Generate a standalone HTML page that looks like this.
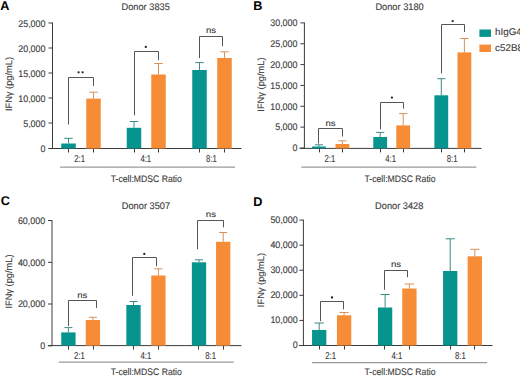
<!DOCTYPE html>
<html><head><meta charset="utf-8"><style>
html,body{margin:0;padding:0;background:#fff;width:520px;height:377px;overflow:hidden}
svg{display:block}
text{font-family:"Liberation Sans", sans-serif;text-rendering:geometricPrecision;stroke:#3a3a3a;stroke-width:0.12px}
</style></head><body>
<svg width="520" height="377" viewBox="0 0 520 377">
<rect width="520" height="377" fill="#fff"/>
<text x="0.3" y="9.6" font-size="12.7" text-anchor="start" font-weight="700" fill="#000" style="stroke:none">A</text>
<text x="121.5" y="9.799999999999999" font-size="9.6" text-anchor="start" font-weight="400" fill="#3a3a3a" textLength="48.3" lengthAdjust="spacingAndGlyphs" >Donor 3835</text>
<line x1="52.5" y1="22.5" x2="52.5" y2="149.0" stroke="#3c3c3c" stroke-width="1"/>
<line x1="48.5" y1="23" x2="52.5" y2="23" stroke="#3c3c3c" stroke-width="1"/>
<text transform="translate(45.5 26.8) scale(0.93 1)" font-size="9.6" text-anchor="end" font-weight="400" fill="#3a3a3a" >25,000</text>
<line x1="48.5" y1="48" x2="52.5" y2="48" stroke="#3c3c3c" stroke-width="1"/>
<text transform="translate(45.5 51.800000000000004) scale(0.93 1)" font-size="9.6" text-anchor="end" font-weight="400" fill="#3a3a3a" >20,000</text>
<line x1="48.5" y1="73" x2="52.5" y2="73" stroke="#3c3c3c" stroke-width="1"/>
<text transform="translate(45.5 76.8) scale(0.93 1)" font-size="9.6" text-anchor="end" font-weight="400" fill="#3a3a3a" >15,000</text>
<line x1="48.5" y1="98" x2="52.5" y2="98" stroke="#3c3c3c" stroke-width="1"/>
<text transform="translate(45.5 101.8) scale(0.93 1)" font-size="9.6" text-anchor="end" font-weight="400" fill="#3a3a3a" >10,000</text>
<line x1="48.5" y1="123" x2="52.5" y2="123" stroke="#3c3c3c" stroke-width="1"/>
<text transform="translate(45.5 126.8) scale(0.93 1)" font-size="9.6" text-anchor="end" font-weight="400" fill="#3a3a3a" >5,000</text>
<line x1="48.5" y1="148.5" x2="52.5" y2="148.5" stroke="#3c3c3c" stroke-width="1"/>
<text transform="translate(45.5 152.29999999999998) scale(0.93 1)" font-size="9.6" text-anchor="end" font-weight="400" fill="#3a3a3a" >0</text>
<line x1="48.5" y1="148.5" x2="241.5" y2="148.5" stroke="#3c3c3c" stroke-width="1"/>
<line x1="68.5" y1="148.5" x2="68.5" y2="152.5" stroke="#3c3c3c" stroke-width="1"/>
<line x1="93.5" y1="148.5" x2="93.5" y2="152.5" stroke="#3c3c3c" stroke-width="1"/>
<line x1="134.5" y1="148.5" x2="134.5" y2="152.5" stroke="#3c3c3c" stroke-width="1"/>
<line x1="158.5" y1="148.5" x2="158.5" y2="152.5" stroke="#3c3c3c" stroke-width="1"/>
<line x1="199.5" y1="148.5" x2="199.5" y2="152.5" stroke="#3c3c3c" stroke-width="1"/>
<line x1="224.5" y1="148.5" x2="224.5" y2="152.5" stroke="#3c3c3c" stroke-width="1"/>
<rect x="61.25" y="143.5" width="14.5" height="5.0" fill="#07938e"/>
<line x1="68.5" y1="138.3" x2="68.5" y2="143.5" stroke="#3c8a86" stroke-width="1"/>
<line x1="64.3" y1="138.3" x2="72.7" y2="138.3" stroke="#3c8a86" stroke-width="1.0"/>
<rect x="86.25" y="98.6" width="14.5" height="49.900000000000006" fill="#f68c35"/>
<line x1="93.5" y1="92.2" x2="93.5" y2="98.6" stroke="#d6925a" stroke-width="1"/>
<line x1="89.3" y1="92.2" x2="97.7" y2="92.2" stroke="#d6925a" stroke-width="1.0"/>
<rect x="126.75" y="127.8" width="14.5" height="20.700000000000003" fill="#07938e"/>
<line x1="134" y1="121.5" x2="134" y2="127.8" stroke="#3c8a86" stroke-width="1"/>
<line x1="129.8" y1="121.5" x2="138.2" y2="121.5" stroke="#3c8a86" stroke-width="1.0"/>
<rect x="151.25" y="74.5" width="14.5" height="74.0" fill="#f68c35"/>
<line x1="158.5" y1="63.5" x2="158.5" y2="74.5" stroke="#d6925a" stroke-width="1"/>
<line x1="154.3" y1="63.5" x2="162.7" y2="63.5" stroke="#d6925a" stroke-width="1.0"/>
<rect x="192.25" y="70.0" width="14.5" height="78.5" fill="#07938e"/>
<line x1="199.5" y1="62.6" x2="199.5" y2="70.0" stroke="#3c8a86" stroke-width="1"/>
<line x1="195.3" y1="62.6" x2="203.7" y2="62.6" stroke="#3c8a86" stroke-width="1.0"/>
<rect x="217.25" y="58.0" width="14.5" height="90.5" fill="#f68c35"/>
<line x1="224.5" y1="51.8" x2="224.5" y2="58.0" stroke="#d6925a" stroke-width="1"/>
<line x1="220.3" y1="51.8" x2="228.7" y2="51.8" stroke="#d6925a" stroke-width="1.0"/>
<polyline points="68.5,124.5 68.5,77.5 93.5,77.5 93.5,86" fill="none" stroke="#555555" stroke-width="1"/>
<circle cx="78.6" cy="72.3" r="1.15" fill="#222"/>
<circle cx="82.6" cy="72.3" r="1.15" fill="#222"/>
<polyline points="134.5,115.3 134.5,51.5 158.5,51.5 158.5,60.3" fill="none" stroke="#555555" stroke-width="1"/>
<circle cx="145.8" cy="46.9" r="1.15" fill="#222"/>
<polyline points="199.5,58.1 199.5,36.5 222.5,36.5 222.5,46.3" fill="none" stroke="#555555" stroke-width="1"/>
<text transform="translate(211 33.2) scale(1.13 1)" font-size="8.5" text-anchor="middle" font-weight="400" fill="#3a3a3a" >ns</text>
<text x="79.6" y="161.9" font-size="10.0" text-anchor="middle" font-weight="400" fill="#3a3a3a" textLength="10.8" lengthAdjust="spacingAndGlyphs" >2:1</text>
<text x="145.8" y="161.9" font-size="10.0" text-anchor="middle" font-weight="400" fill="#3a3a3a" textLength="10.8" lengthAdjust="spacingAndGlyphs" >4:1</text>
<text x="211.5" y="161.9" font-size="10.0" text-anchor="middle" font-weight="400" fill="#3a3a3a" textLength="10.8" lengthAdjust="spacingAndGlyphs" >8:1</text>
<line x1="60" y1="167" x2="235" y2="167" stroke="#9a9a9a" stroke-width="1.25"/>
<text x="110.8" y="181.9" font-size="9.5" text-anchor="start" font-weight="400" fill="#3a3a3a" textLength="71" lengthAdjust="spacingAndGlyphs" >T-cell:MDSC Ratio</text>
<text x="12.4" y="84" font-size="9.3" text-anchor="middle" fill="#3a3a3a" transform="rotate(-90 12.4 84)">IFNγ (pg/mL)</text>
<text x="253.3" y="10.2" font-size="12.7" text-anchor="start" font-weight="700" fill="#000" style="stroke:none">B</text>
<text x="375.4" y="9.799999999999999" font-size="9.6" text-anchor="start" font-weight="400" fill="#3a3a3a" textLength="48.3" lengthAdjust="spacingAndGlyphs" >Donor 3180</text>
<line x1="304.4" y1="22.4" x2="304.4" y2="148.9" stroke="#3c3c3c" stroke-width="1"/>
<line x1="300.4" y1="22.9" x2="304.4" y2="22.9" stroke="#3c3c3c" stroke-width="1"/>
<text transform="translate(297.5 26.099999999999998) scale(0.93 1)" font-size="9.6" text-anchor="end" font-weight="400" fill="#3a3a3a" >30,000</text>
<line x1="300.4" y1="43.75" x2="304.4" y2="43.75" stroke="#3c3c3c" stroke-width="1"/>
<text transform="translate(297.5 46.95) scale(0.93 1)" font-size="9.6" text-anchor="end" font-weight="400" fill="#3a3a3a" >25,000</text>
<line x1="300.4" y1="64.6" x2="304.4" y2="64.6" stroke="#3c3c3c" stroke-width="1"/>
<text transform="translate(297.5 67.8) scale(0.93 1)" font-size="9.6" text-anchor="end" font-weight="400" fill="#3a3a3a" >20,000</text>
<line x1="300.4" y1="85.45" x2="304.4" y2="85.45" stroke="#3c3c3c" stroke-width="1"/>
<text transform="translate(297.5 88.65) scale(0.93 1)" font-size="9.6" text-anchor="end" font-weight="400" fill="#3a3a3a" >15,000</text>
<line x1="300.4" y1="106.30000000000001" x2="304.4" y2="106.30000000000001" stroke="#3c3c3c" stroke-width="1"/>
<text transform="translate(297.5 109.50000000000001) scale(0.93 1)" font-size="9.6" text-anchor="end" font-weight="400" fill="#3a3a3a" >10,000</text>
<line x1="300.4" y1="127.15" x2="304.4" y2="127.15" stroke="#3c3c3c" stroke-width="1"/>
<text transform="translate(297.5 130.35) scale(0.93 1)" font-size="9.6" text-anchor="end" font-weight="400" fill="#3a3a3a" >5,000</text>
<line x1="300.4" y1="148.0" x2="304.4" y2="148.0" stroke="#3c3c3c" stroke-width="1"/>
<text transform="translate(297.5 151.2) scale(0.93 1)" font-size="9.6" text-anchor="end" font-weight="400" fill="#3a3a3a" >0</text>
<line x1="299.5" y1="148.4" x2="481.5" y2="148.4" stroke="#3c3c3c" stroke-width="1"/>
<line x1="319.5" y1="148.4" x2="319.5" y2="152.4" stroke="#3c3c3c" stroke-width="1"/>
<line x1="342.5" y1="148.4" x2="342.5" y2="152.4" stroke="#3c3c3c" stroke-width="1"/>
<line x1="380.5" y1="148.4" x2="380.5" y2="152.4" stroke="#3c3c3c" stroke-width="1"/>
<line x1="403.5" y1="148.4" x2="403.5" y2="152.4" stroke="#3c3c3c" stroke-width="1"/>
<line x1="441.5" y1="148.4" x2="441.5" y2="152.4" stroke="#3c3c3c" stroke-width="1"/>
<line x1="464.5" y1="148.4" x2="464.5" y2="152.4" stroke="#3c3c3c" stroke-width="1"/>
<rect x="312.0" y="146.5" width="13.8" height="1.9000000000000057" fill="#07938e"/>
<line x1="318.9" y1="144.8" x2="318.9" y2="146.5" stroke="#3c8a86" stroke-width="1"/>
<line x1="314.79999999999995" y1="144.8" x2="323.0" y2="144.8" stroke="#3c8a86" stroke-width="1.0"/>
<rect x="335.5" y="144" width="13.8" height="4.400000000000006" fill="#f68c35"/>
<line x1="342.4" y1="140.8" x2="342.4" y2="144" stroke="#d6925a" stroke-width="1"/>
<line x1="338.29999999999995" y1="140.8" x2="346.5" y2="140.8" stroke="#d6925a" stroke-width="1.0"/>
<rect x="373.3" y="137" width="13.8" height="11.400000000000006" fill="#07938e"/>
<line x1="380.2" y1="132.4" x2="380.2" y2="137" stroke="#3c8a86" stroke-width="1"/>
<line x1="376.09999999999997" y1="132.4" x2="384.3" y2="132.4" stroke="#3c8a86" stroke-width="1.0"/>
<rect x="396.3" y="125.4" width="13.8" height="23.0" fill="#f68c35"/>
<line x1="403.2" y1="113.6" x2="403.2" y2="125.4" stroke="#d6925a" stroke-width="1"/>
<line x1="399.09999999999997" y1="113.6" x2="407.3" y2="113.6" stroke="#d6925a" stroke-width="1.0"/>
<rect x="434.40000000000003" y="95.3" width="13.8" height="53.10000000000001" fill="#07938e"/>
<line x1="441.3" y1="78.7" x2="441.3" y2="95.3" stroke="#3c8a86" stroke-width="1"/>
<line x1="437.2" y1="78.7" x2="445.40000000000003" y2="78.7" stroke="#3c8a86" stroke-width="1.0"/>
<rect x="457.5" y="52.4" width="13.8" height="96.0" fill="#f68c35"/>
<line x1="464.4" y1="38.5" x2="464.4" y2="52.4" stroke="#d6925a" stroke-width="1"/>
<line x1="460.29999999999995" y1="38.5" x2="468.5" y2="38.5" stroke="#d6925a" stroke-width="1.0"/>
<polyline points="318.5,143.5 318.5,128.5 342.5,128.5 342.5,136.6" fill="none" stroke="#555555" stroke-width="1"/>
<text transform="translate(330.6 126.2) scale(1.13 1)" font-size="8.5" text-anchor="middle" font-weight="400" fill="#3a3a3a" >ns</text>
<polyline points="380.5,129.3 380.5,102.5 403.5,102.5 403.5,108.6" fill="none" stroke="#555555" stroke-width="1"/>
<circle cx="391.9" cy="97.6" r="1.15" fill="#222"/>
<polyline points="441.5,73.3 441.5,24.5 464.5,24.5 464.5,32.0" fill="none" stroke="#555555" stroke-width="1"/>
<circle cx="452.7" cy="21.1" r="1.15" fill="#222"/>
<text x="330" y="162.0" font-size="10.0" text-anchor="middle" font-weight="400" fill="#3a3a3a" textLength="10.8" lengthAdjust="spacingAndGlyphs" >2:1</text>
<text x="390.7" y="162.0" font-size="10.0" text-anchor="middle" font-weight="400" fill="#3a3a3a" textLength="10.8" lengthAdjust="spacingAndGlyphs" >4:1</text>
<text x="452.2" y="162.0" font-size="10.0" text-anchor="middle" font-weight="400" fill="#3a3a3a" textLength="10.8" lengthAdjust="spacingAndGlyphs" >8:1</text>
<line x1="301.3" y1="167" x2="476.3" y2="167" stroke="#9a9a9a" stroke-width="1.25"/>
<text x="364.5" y="181.9" font-size="9.5" text-anchor="start" font-weight="400" fill="#3a3a3a" textLength="71" lengthAdjust="spacingAndGlyphs" >T-cell:MDSC Ratio</text>
<text x="264.2" y="84.5" font-size="9.3" text-anchor="middle" fill="#3a3a3a" transform="rotate(-90 264.2 84.5)">IFNγ (pg/mL)</text>
<text x="0.8" y="205.2" font-size="12.7" text-anchor="start" font-weight="700" fill="#000" style="stroke:none">C</text>
<text x="121.8" y="208.6" font-size="9.6" text-anchor="start" font-weight="400" fill="#3a3a3a" textLength="48.3" lengthAdjust="spacingAndGlyphs" >Donor 3507</text>
<line x1="52.0" y1="220.0" x2="52.0" y2="346.1" stroke="#3c3c3c" stroke-width="1"/>
<line x1="48.0" y1="220.5" x2="52.0" y2="220.5" stroke="#3c3c3c" stroke-width="1"/>
<text transform="translate(45.2 223.79999999999998) scale(0.93 1)" font-size="9.6" text-anchor="end" font-weight="400" fill="#3a3a3a" >60,000</text>
<line x1="48.0" y1="262.3" x2="52.0" y2="262.3" stroke="#3c3c3c" stroke-width="1"/>
<text transform="translate(45.2 265.6) scale(0.93 1)" font-size="9.6" text-anchor="end" font-weight="400" fill="#3a3a3a" >40,000</text>
<line x1="48.0" y1="304" x2="52.0" y2="304" stroke="#3c3c3c" stroke-width="1"/>
<text transform="translate(45.2 307.3) scale(0.93 1)" font-size="9.6" text-anchor="end" font-weight="400" fill="#3a3a3a" >20,000</text>
<line x1="48.0" y1="345.8" x2="52.0" y2="345.8" stroke="#3c3c3c" stroke-width="1"/>
<text transform="translate(45.2 349.1) scale(0.93 1)" font-size="9.6" text-anchor="end" font-weight="400" fill="#3a3a3a" >0</text>
<line x1="47.8" y1="345.6" x2="241.5" y2="345.6" stroke="#3c3c3c" stroke-width="1"/>
<line x1="68.5" y1="345.6" x2="68.5" y2="349.6" stroke="#3c3c3c" stroke-width="1"/>
<line x1="93.5" y1="345.6" x2="93.5" y2="349.6" stroke="#3c3c3c" stroke-width="1"/>
<line x1="133.5" y1="345.6" x2="133.5" y2="349.6" stroke="#3c3c3c" stroke-width="1"/>
<line x1="158.5" y1="345.6" x2="158.5" y2="349.6" stroke="#3c3c3c" stroke-width="1"/>
<line x1="198.5" y1="345.6" x2="198.5" y2="349.6" stroke="#3c3c3c" stroke-width="1"/>
<line x1="223.5" y1="345.6" x2="223.5" y2="349.6" stroke="#3c3c3c" stroke-width="1"/>
<rect x="61.25000000000001" y="332.4" width="14.3" height="13.200000000000045" fill="#07938e"/>
<line x1="68.4" y1="327.6" x2="68.4" y2="332.4" stroke="#3c8a86" stroke-width="1"/>
<line x1="64.4" y1="327.6" x2="72.4" y2="327.6" stroke="#3c8a86" stroke-width="1.0"/>
<rect x="85.75" y="320" width="14.3" height="25.600000000000023" fill="#f68c35"/>
<line x1="92.9" y1="317.3" x2="92.9" y2="320" stroke="#d6925a" stroke-width="1"/>
<line x1="88.9" y1="317.3" x2="96.9" y2="317.3" stroke="#d6925a" stroke-width="1.0"/>
<rect x="126.35" y="305" width="14.3" height="40.60000000000002" fill="#07938e"/>
<line x1="133.5" y1="301.5" x2="133.5" y2="305" stroke="#3c8a86" stroke-width="1"/>
<line x1="129.5" y1="301.5" x2="137.5" y2="301.5" stroke="#3c8a86" stroke-width="1.0"/>
<rect x="151.25" y="275.5" width="14.3" height="70.10000000000002" fill="#f68c35"/>
<line x1="158.4" y1="268.8" x2="158.4" y2="275.5" stroke="#d6925a" stroke-width="1"/>
<line x1="154.4" y1="268.8" x2="162.4" y2="268.8" stroke="#d6925a" stroke-width="1.0"/>
<rect x="191.85" y="262.3" width="14.3" height="83.30000000000001" fill="#07938e"/>
<line x1="199" y1="259.8" x2="199" y2="262.3" stroke="#3c8a86" stroke-width="1"/>
<line x1="195" y1="259.8" x2="203" y2="259.8" stroke="#3c8a86" stroke-width="1.0"/>
<rect x="216.04999999999998" y="241.8" width="14.3" height="103.80000000000001" fill="#f68c35"/>
<line x1="223.2" y1="232.5" x2="223.2" y2="241.8" stroke="#d6925a" stroke-width="1"/>
<line x1="219.2" y1="232.5" x2="227.2" y2="232.5" stroke="#d6925a" stroke-width="1.0"/>
<polyline points="68.5,326.0 68.5,300.5 96.5,300.5 96.5,307.9" fill="none" stroke="#555555" stroke-width="1"/>
<text transform="translate(82.2 297.9) scale(1.13 1)" font-size="8.5" text-anchor="middle" font-weight="400" fill="#3a3a3a" >ns</text>
<polyline points="132.5,295.8 132.5,257.5 156.5,257.5 156.5,266.2" fill="none" stroke="#555555" stroke-width="1"/>
<circle cx="144.3" cy="253.9" r="1.15" fill="#222"/>
<polyline points="197.5,249.3 197.5,220.5 223.5,220.5 223.5,227.3" fill="none" stroke="#555555" stroke-width="1"/>
<text transform="translate(210.9 216.8) scale(1.13 1)" font-size="8.5" text-anchor="middle" font-weight="400" fill="#3a3a3a" >ns</text>
<text x="79.4" y="358.7" font-size="10.0" text-anchor="middle" font-weight="400" fill="#3a3a3a" textLength="10.8" lengthAdjust="spacingAndGlyphs" >2:1</text>
<text x="145.9" y="358.7" font-size="10.0" text-anchor="middle" font-weight="400" fill="#3a3a3a" textLength="10.8" lengthAdjust="spacingAndGlyphs" >4:1</text>
<text x="210.6" y="358.7" font-size="10.0" text-anchor="middle" font-weight="400" fill="#3a3a3a" textLength="10.8" lengthAdjust="spacingAndGlyphs" >8:1</text>
<line x1="58.8" y1="362.1" x2="233.8" y2="362.1" stroke="#9a9a9a" stroke-width="1.25"/>
<text x="110.8" y="375" font-size="9.5" text-anchor="start" font-weight="400" fill="#3a3a3a" textLength="71" lengthAdjust="spacingAndGlyphs" >T-cell:MDSC Ratio</text>
<text x="12.3" y="281.5" font-size="9.3" text-anchor="middle" fill="#3a3a3a" transform="rotate(-90 12.3 281.5)">IFNγ (pg/mL)</text>
<text x="253.3" y="206.2" font-size="12.7" text-anchor="start" font-weight="700" fill="#000" style="stroke:none">D</text>
<text x="375.1" y="208.6" font-size="9.6" text-anchor="start" font-weight="400" fill="#3a3a3a" textLength="48.3" lengthAdjust="spacingAndGlyphs" >Donor 3428</text>
<line x1="303.4" y1="219.6" x2="303.4" y2="346.0" stroke="#3c3c3c" stroke-width="1"/>
<line x1="299.4" y1="220.1" x2="303.4" y2="220.1" stroke="#3c3c3c" stroke-width="1"/>
<text transform="translate(297.7 223.04999999999998) scale(0.93 1)" font-size="9.6" text-anchor="end" font-weight="400" fill="#3a3a3a" >50,000</text>
<line x1="299.4" y1="245.18" x2="303.4" y2="245.18" stroke="#3c3c3c" stroke-width="1"/>
<text transform="translate(297.7 248.13) scale(0.93 1)" font-size="9.6" text-anchor="end" font-weight="400" fill="#3a3a3a" >40,000</text>
<line x1="299.4" y1="270.26" x2="303.4" y2="270.26" stroke="#3c3c3c" stroke-width="1"/>
<text transform="translate(297.7 273.21) scale(0.93 1)" font-size="9.6" text-anchor="end" font-weight="400" fill="#3a3a3a" >30,000</text>
<line x1="299.4" y1="295.34" x2="303.4" y2="295.34" stroke="#3c3c3c" stroke-width="1"/>
<text transform="translate(297.7 298.28999999999996) scale(0.93 1)" font-size="9.6" text-anchor="end" font-weight="400" fill="#3a3a3a" >20,000</text>
<line x1="299.4" y1="320.41999999999996" x2="303.4" y2="320.41999999999996" stroke="#3c3c3c" stroke-width="1"/>
<text transform="translate(297.7 323.36999999999995) scale(0.93 1)" font-size="9.6" text-anchor="end" font-weight="400" fill="#3a3a3a" >10,000</text>
<line x1="299.4" y1="345.5" x2="303.4" y2="345.5" stroke="#3c3c3c" stroke-width="1"/>
<text transform="translate(297.7 348.45) scale(0.93 1)" font-size="9.6" text-anchor="end" font-weight="400" fill="#3a3a3a" >0</text>
<line x1="299" y1="345.5" x2="492.5" y2="345.5" stroke="#3c3c3c" stroke-width="1"/>
<line x1="319.5" y1="345.5" x2="319.5" y2="349.5" stroke="#3c3c3c" stroke-width="1"/>
<line x1="344.5" y1="345.5" x2="344.5" y2="349.5" stroke="#3c3c3c" stroke-width="1"/>
<line x1="384.5" y1="345.5" x2="384.5" y2="349.5" stroke="#3c3c3c" stroke-width="1"/>
<line x1="409.5" y1="345.5" x2="409.5" y2="349.5" stroke="#3c3c3c" stroke-width="1"/>
<line x1="450.5" y1="345.5" x2="450.5" y2="349.5" stroke="#3c3c3c" stroke-width="1"/>
<line x1="474.5" y1="345.5" x2="474.5" y2="349.5" stroke="#3c3c3c" stroke-width="1"/>
<rect x="312.05" y="330" width="14.3" height="15.5" fill="#07938e"/>
<line x1="319.2" y1="323.0" x2="319.2" y2="330" stroke="#3c8a86" stroke-width="1"/>
<line x1="314.59999999999997" y1="323.0" x2="323.8" y2="323.0" stroke="#3c8a86" stroke-width="1.0"/>
<rect x="336.95000000000005" y="315.3" width="14.3" height="30.19999999999999" fill="#f68c35"/>
<line x1="344.1" y1="312.5" x2="344.1" y2="315.3" stroke="#d6925a" stroke-width="1"/>
<line x1="339.5" y1="312.5" x2="348.70000000000005" y2="312.5" stroke="#d6925a" stroke-width="1.0"/>
<rect x="377.95000000000005" y="307.5" width="14.3" height="38.0" fill="#07938e"/>
<line x1="385.1" y1="294.5" x2="385.1" y2="307.5" stroke="#3c8a86" stroke-width="1"/>
<line x1="380.5" y1="294.5" x2="389.70000000000005" y2="294.5" stroke="#3c8a86" stroke-width="1.0"/>
<rect x="402.25" y="288.5" width="14.3" height="57.0" fill="#f68c35"/>
<line x1="409.4" y1="284" x2="409.4" y2="288.5" stroke="#d6925a" stroke-width="1"/>
<line x1="404.79999999999995" y1="284" x2="414.0" y2="284" stroke="#d6925a" stroke-width="1.0"/>
<rect x="443.05" y="271" width="14.3" height="74.5" fill="#07938e"/>
<line x1="450.2" y1="238.8" x2="450.2" y2="271" stroke="#3c8a86" stroke-width="1"/>
<line x1="445.59999999999997" y1="238.8" x2="454.8" y2="238.8" stroke="#3c8a86" stroke-width="1.0"/>
<rect x="467.65000000000003" y="256.3" width="14.3" height="89.19999999999999" fill="#f68c35"/>
<line x1="474.8" y1="249.3" x2="474.8" y2="256.3" stroke="#d6925a" stroke-width="1"/>
<line x1="470.2" y1="249.3" x2="479.40000000000003" y2="249.3" stroke="#d6925a" stroke-width="1.0"/>
<polyline points="320.5,321.2 320.5,301.5 343.5,301.5 343.5,309.3" fill="none" stroke="#555555" stroke-width="1"/>
<circle cx="332" cy="297.5" r="1.15" fill="#222"/>
<polyline points="384.5,289.8 384.5,270.5 407.5,270.5 407.5,277.2" fill="none" stroke="#555555" stroke-width="1"/>
<text transform="translate(396.1 266.5) scale(1.13 1)" font-size="8.5" text-anchor="middle" font-weight="400" fill="#3a3a3a" >ns</text>
<text x="330.6" y="358.8" font-size="10.0" text-anchor="middle" font-weight="400" fill="#3a3a3a" textLength="10.8" lengthAdjust="spacingAndGlyphs" >2:1</text>
<text x="396.9" y="358.8" font-size="10.0" text-anchor="middle" font-weight="400" fill="#3a3a3a" textLength="10.8" lengthAdjust="spacingAndGlyphs" >4:1</text>
<text x="460.4" y="358.8" font-size="10.0" text-anchor="middle" font-weight="400" fill="#3a3a3a" textLength="10.8" lengthAdjust="spacingAndGlyphs" >8:1</text>
<line x1="312" y1="362.5" x2="487" y2="362.5" stroke="#9a9a9a" stroke-width="1.25"/>
<text x="364.5" y="375" font-size="9.5" text-anchor="start" font-weight="400" fill="#3a3a3a" textLength="71" lengthAdjust="spacingAndGlyphs" >T-cell:MDSC Ratio</text>
<text x="264.3" y="280" font-size="9.3" text-anchor="middle" fill="#3a3a3a" transform="rotate(-90 264.3 280)">IFNγ (pg/mL)</text>
<rect x="479.4" y="29.5" width="11.6" height="7.4" fill="#07938e"/>
<rect x="479.4" y="44.6" width="11.6" height="7.4" fill="#f68c35"/>
<text x="495.1" y="34.7" font-size="9.8" text-anchor="start" font-weight="400" fill="#3a3a3a" >hIgG4</text>
<text x="495.1" y="51.3" font-size="9.8" text-anchor="start" font-weight="400" fill="#3a3a3a" >c52B8</text>
</svg></body></html>
